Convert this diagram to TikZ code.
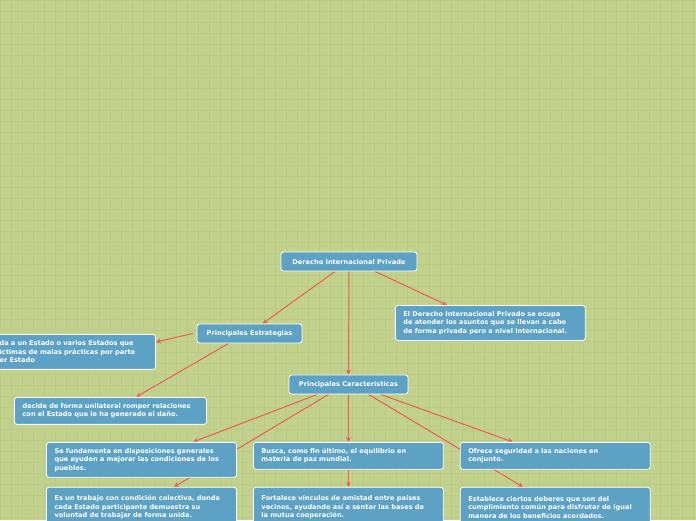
\documentclass[tikz,border=0pt]{standalone}
\usepackage{fontspec}
\setmainfont{DejaVu Sans}
\usetikzlibrary{arrows.meta}
\pgfdeclarelayer{grid}\pgfdeclarelayer{bg}
\pgfsetlayers{grid,bg,main}
\definecolor{bgc}{HTML}{C2D18C}
\definecolor{gridc}{HTML}{BACB88}
\definecolor{boxc}{HTML}{5DA2C4}
\definecolor{arr}{HTML}{EE5D5A}
\tikzset{
 box/.style={draw=white,line width=0.8pt,fill=boxc,rounded corners=2.5pt,text=white,font=\bfseries\fontsize{6.6}{8.4}\selectfont,align=left,inner sep=0pt},
 con/.style={draw=arr,line width=1pt,-{Stealth[length=5pt,width=5pt]}}
}
\newcommand{\bx}[6]{\node[box,minimum width=#3-#1,minimum height=#4-#2,text width=#3-#1-16,anchor=north west] (#5) at (#1,#2) {#6};}
\begin{document}
\begin{tikzpicture}[x=1pt,y=-1pt]
\begin{pgfonlayer}{grid}
\fill[bgc] (0,0) rectangle (696,520);
\foreach \i in {0,11,...,700} {\draw[gridc,line width=0.4pt] (\i,0)--(\i,520);}
\foreach \i in {0,11,...,520} {\draw[gridc,line width=0.4pt] (0,\i)--(696,\i);}
\end{pgfonlayer}
\useasboundingbox (0,0) rectangle (696,520);
\node[box,anchor=center,minimum width=136,minimum height=19] (root) at (349,261.5) {Derecho Internacional Privado};
\node[box,anchor=center,minimum width=105,minimum height=19] (pe) at (249.5,333.5) {Principales Estrategias};
\node[box,anchor=center,minimum width=119,minimum height=19] (pc) at (348.5,384.5) {Principales Características};
\bx{-20}{334}{155}{369}{lft}{\hspace*{11pt}da a un Estado o varios Estados que\\\hspace*{11pt}íctimas de malas prácticas por parte\\\hspace*{11pt}er Estado}
\bx{14}{397}{206}{424}{dec}{decide de forma unilateral romper relaciones\\con el Estado que le ha generado el daño.}
\bx{395}{305}{585}{340}{dip}{El Derecho Internacional Privado se ocupa\\de atender los asuntos que se llevan a cabo\\de forma privada pero a nivel internacional.}
\bx{46}{442}{236}{477}{sef}{Se fundamenta en disposiciones generales\\que ayuden a mejorar las condiciones de los\\pueblos.}
\bx{253}{442}{443}{469}{bus}{Busca, como fin último, el equilibrio en\\materia de paz mundial.}
\bx{460}{442}{650}{469}{ofr}{Ofrece seguridad a las naciones en\\conjunto.}
\bx{46}{487}{236}{527}{est}{Es un trabajo con condición colectiva, donde\\cada Estado participante demuestra su\\voluntad de trabajar de forma unida.\\[2pt]}
\bx{253}{487}{443}{527}{for}{Fortalece vínculos de amistad entre países\\vecinos, ayudando así a sentar las bases de\\la mutua cooperación.\\[2pt]}
\bx{460}{487}{650}{527}{esb}{Establece ciertos deberes que son del\\cumplimiento común para disfrutar de igual\\manera de los beneficios acordados.\\[2pt]}
\begin{pgfonlayer}{bg}
\draw[con] ([xshift=-14pt]root.south) -- ([xshift=13pt]pe.north);
\draw[con] (root.south) -- (pc.north);
\draw[con] ([xshift=26pt]root.south) -- ([xshift=52pt]dip.north west);
\draw[con] ([xshift=-4pt]pe.west) -- ([yshift=-8pt]lft.north east);
\draw[con] ([xshift=-21pt]pe.south) -- ([xshift=122pt]dec.north west);
\draw[con] ([xshift=-31pt]pc.south) -- ([xshift=147pt]sef.north west);
\draw[con] ([xshift=-20pt]pc.south) -- ([xshift=128pt]est.north west);
\draw[con] (pc.south) -- (bus.north);
\draw[con] ([xshift=20pt]pc.south) -- ([xshift=63pt]esb.north west);
\draw[con] ([xshift=32pt]pc.south) -- ([xshift=53pt]ofr.north west);
\draw[con] (bus.south) -- (for.north);
\end{pgfonlayer}
\end{tikzpicture}
\end{document}
